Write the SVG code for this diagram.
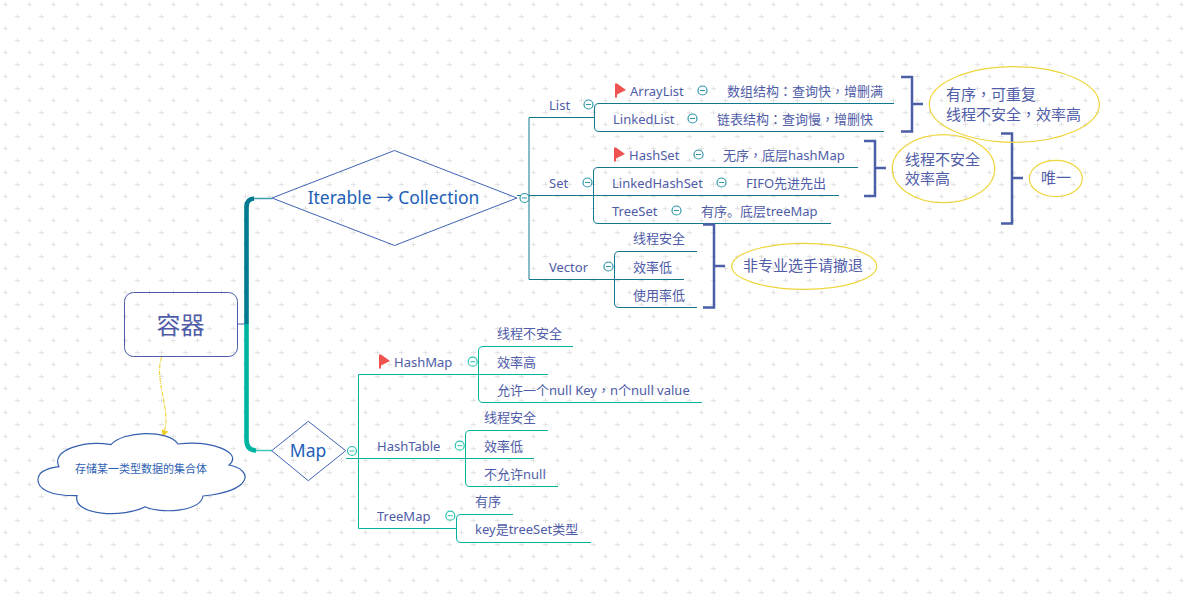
<svg xmlns="http://www.w3.org/2000/svg" width="1188" height="599" viewBox="0 0 1188 599">
<style>
text{font-family:"Noto Sans","Noto Sans CJK SC",sans-serif;font-size:13px;fill:#4f5ca8}
.p{font-family:"Noto Sans CJK TC",sans-serif}
.big{font-size:15px}
.dia{font-size:17.500px;fill:#2160b8;text-anchor:middle}
.blue{fill:none;stroke:#3f63b5;stroke-width:1}
.c{fill:none;stroke:#10788f;stroke-width:1}
.m{fill:none;stroke:#00b5a0;stroke-width:1}
.br{fill:none;stroke:#4a5fa8;stroke-width:2.500}
.ell{fill:none;stroke:#efd53c;stroke-width:1.200}
.tc circle{fill:#fff;stroke:#2f97aa;stroke-width:1.200}
.tc path{stroke:#2f97aa;stroke-width:1;fill:none}
.tm circle{fill:#fff;stroke:#2cc4b0;stroke-width:1.200}
.tm path{stroke:#2cc4b0;stroke-width:1;fill:none}
.flag{fill:#ef5350}
</style>
<defs>
<pattern id="grid" width="24" height="24" patternUnits="userSpaceOnUse">
<g fill="#e4e4e4"><rect x="3" y="4" width="5" height="1"/><rect x="5" y="2" width="1" height="5"/><rect x="15" y="16" width="5" height="1"/><rect x="17" y="14" width="1" height="5"/></g>
</pattern>
<marker id="ya" markerWidth="8" markerHeight="8" refX="6" refY="3.500" orient="auto" markerUnits="userSpaceOnUse"><path d="M0,0L7,3.500L0,7Z" fill="#efd02a"/></marker>
<path id="fl" d="M0,0H2V14H0ZM2,0L11,6.500L2,11Z"/>
<g id="togc" class="tc"><circle r="4.500"/><path d="M-2.500,0H2.500"/></g>
<g id="togm" class="tm"><circle r="4.500"/><path d="M-2.500,0H2.500"/></g>
</defs>
<rect width="1188" height="599" fill="#fff"/>
<rect width="1188" height="599" fill="url(#grid)"/>

<g id="connectors">
<path d="M238,324H246.500" fill="none" stroke="#4a5fa8" stroke-width="1"/>
<path d="M246.500,324V207Q246.500,199 254,198.500" fill="none" stroke="#007a90" stroke-width="4.600"/>
<path d="M254,198.500H272" fill="none" stroke="#3a9cad" stroke-width="1.500"/>
<path d="M246.500,324V440Q246.500,450 256,450.500" fill="none" stroke="#00b5a0" stroke-width="4.600"/>
<path d="M256,450.500H272" fill="none" stroke="#3cc8b5" stroke-width="1.500"/>
<path d="M161.700,357.300C155,375 166,400 166,420Q166,428 163,436" fill="none" stroke="#efd53c" stroke-width="1.200" stroke-dasharray="4 1 1 1" marker-end="url(#ya)"/>
<path class="c" d="M529,198V117.500H594M529,198V279.500H684M517,195.500H839"/>
<path class="c" d="M599,103.500H894M599,131.500H884M594.500,117V108Q594.500,103.500 599,103.500M594.500,117V127Q594.500,131.500 599,131.500"/>
<path class="c" d="M598,167.500H858M598,223.500H831M593.500,195V172Q593.500,167.500 598,167.500M593.500,195V219Q593.500,223.500 598,223.500"/>
<path class="c" d="M619,251.500H697M619,307.500H697M614.500,279V256Q614.500,251.500 619,251.500M614.500,279V303Q614.500,307.500 619,307.500"/>
<path class="m" d="M358.500,451V374.500H548M358.500,451V528.500H457M346,458.500H534"/>
<path class="m" d="M483,346.500H573M483,402.500H702M478.500,374V351Q478.500,346.500 483,346.500M478.500,374V398Q478.500,402.500 483,402.500"/>
<path class="m" d="M470,430.500H548M470,486.500H558M465.500,458V435Q465.500,430.500 470,430.500M465.500,458V482Q465.500,486.500 470,486.500"/>
<path class="m" d="M461,514.500H513M461,542.500H591M456.500,528V519Q456.500,514.500 461,514.500M456.500,528V538Q456.500,542.500 461,542.500"/>
<path class="br" d="M901,77H912V131.500H901M912,104H923"/>
<path class="br" d="M864,141H875V196H864M875,168H886"/>
<path class="br" d="M1001,133.500H1012V223.500H1001M1012,178H1023"/>
<path class="br" d="M703,224.500H714V307.500H703M714,266H725"/>
</g>

<g id="n-root"><rect x="124.500" y="292.500" width="113" height="64" rx="9" fill="none" stroke="#4a5fa8"/><text x="180.500" y="334" text-anchor="middle" style="font-size:24px">容器</text></g>
<g id="n-note"><path d="M111,444.700C122,431 168,429 178,444C210,440 244,452 229,465C254,470 253,491 203,496C200,512 160,514 145,506.700C125,518 72,516 77,495.700C48,496 38,488 38,480C38,472 48,468 59,466.700C50,450 85,440 111,444.700Z" fill="#fff" stroke="#3560b0" stroke-width="1.200"/><text x="141" y="473" text-anchor="middle" style="font-size:11px;fill:#2f62b4">存储某一类型数据的集合体</text></g>
<g id="n-collection"><path class="blue" d="M272,198L394.500,150.500L517,198L394.500,245.500Z"/><text class="dia" x="393.500" y="204">Iterable → Collection</text></g>
<g id="n-map"><path class="blue" d="M271.700,450.700L308.300,421.300L345.700,450.700L308.300,480.700Z"/><text class="dia" x="308" y="457">Map</text></g>

<g id="toggles-c">
<use href="#togc" x="524.500" y="198"/><use href="#togc" x="588.500" y="104.500"/><use href="#togc" x="702.500" y="90.500"/><use href="#togc" x="692.500" y="118.500"/><use href="#togc" x="587.500" y="182.500"/><use href="#togc" x="698.500" y="154.500"/><use href="#togc" x="721.500" y="182.500"/><use href="#togc" x="676.500" y="210.500"/><use href="#togc" x="608.500" y="266.500"/>
</g>
<g id="toggles-m">
<use href="#togm" x="352" y="451"/><use href="#togm" x="472.700" y="361.700"/><use href="#togm" x="459.700" y="445.700"/><use href="#togm" x="450.300" y="515.700"/>
</g>
<g id="flags" class="flag"><use href="#fl" x="615" y="83.500"/><use href="#fl" x="614" y="147.500"/><use href="#fl" x="379" y="354.500"/></g>

<g id="n-list"><text x="549" y="110">List</text></g>
<g id="n-arraylist"><text x="630" y="96">ArrayList</text><text x="727" y="96">数组结构<tspan class="p">：</tspan>查询快<tspan class="p">，</tspan>增删满</text></g>
<g id="n-linkedlist"><text x="613" y="124">LinkedList</text><text x="717" y="124">链表结构<tspan class="p">：</tspan>查询慢<tspan class="p">，</tspan>增删快</text></g>
<g id="n-set"><text x="549" y="188">Set</text></g>
<g id="n-hashset"><text x="629" y="160">HashSet</text><text x="723" y="160">无序<tspan class="p">，</tspan>底层hashMap</text></g>
<g id="n-linkedhashset"><text x="612" y="188">LinkedHashSet</text><text x="746" y="188">FIFO先进先出</text></g>
<g id="n-treeset"><text x="612" y="216">TreeSet</text><text x="701" y="216">有序。底层treeMap</text></g>
<g id="n-vector"><text x="549" y="272">Vector</text><text x="633" y="243">线程安全</text><text x="633" y="272">效率低</text><text x="633" y="300">使用率低</text></g>
<g id="n-hashmap"><text x="394" y="367">HashMap</text><text x="497" y="338">线程不安全</text><text x="497" y="367">效率高</text><text x="497" y="395">允许一个null Key<tspan class="p">，</tspan>n个null value</text></g>
<g id="n-hashtable"><text x="377" y="451">HashTable</text><text x="484" y="422">线程安全</text><text x="484" y="451">效率低</text><text x="484" y="479">不允许null</text></g>
<g id="n-treemap"><text x="377" y="521">TreeMap</text><text x="475" y="506">有序</text><text x="475" y="534">key是treeSet类型</text></g>

<g id="n-e1"><ellipse class="ell" cx="1014.300" cy="104.500" rx="85" ry="37.800"/><text class="big" x="946" y="100">有序<tspan class="p">，</tspan>可重复</text><text class="big" x="946" y="120">线程不安全<tspan class="p">，</tspan>效率高</text></g>
<g id="n-e2"><ellipse class="ell" cx="943.500" cy="168.700" rx="51.200" ry="34"/><text class="big" x="905" y="165">线程不安全</text><text class="big" x="905" y="184">效率高</text></g>
<g id="n-e3"><ellipse class="ell" cx="1055.800" cy="178.500" rx="26.500" ry="18.200"/><text class="big" x="1041" y="183">唯一</text></g>
<g id="n-e4"><ellipse class="ell" cx="804.200" cy="266.300" rx="72.500" ry="23"/><text class="big" x="743" y="271">非专业选手请撤退</text></g>
</svg>
